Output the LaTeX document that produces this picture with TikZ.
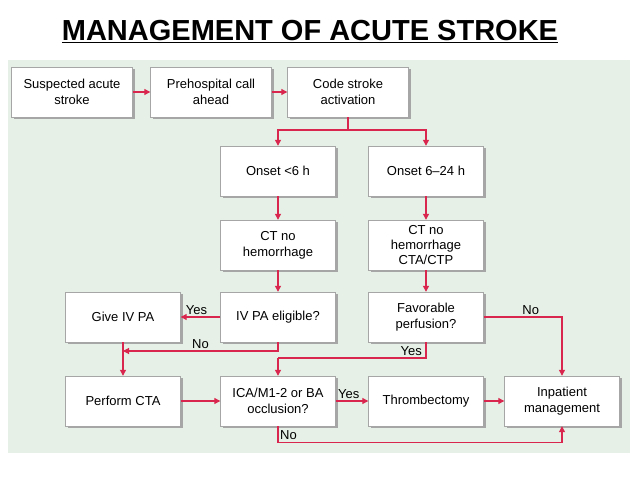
\documentclass[tikz,border=0pt]{standalone}
\usepackage{fontspec}
\setmainfont{Liberation Sans}
\usetikzlibrary{arrows.meta,positioning,shadows}
\definecolor{flowred}{HTML}{D9264E}
\definecolor{panelgreen}{HTML}{E6F0E6}
\begin{document}
\begin{tikzpicture}[x=1pt,y=-1pt,
	box/.style = {draw=gray!70, fill=white, thin, minimum width=115pt, minimum height=50pt,
		align=center, font=\fontsize{13}{16}\selectfont,
		drop shadow={shadow xshift=2pt, shadow yshift=-2pt, fill=gray!70, opacity=1}},
	flow/.style = {draw=flowred, line width=1.1pt, -{Triangle[length=6pt,width=6pt]}},
	lbl/.style  = {font=\fontsize{13}{15}\selectfont, inner sep=2pt},
	>=latex]
	\useasboundingbox (0,0) rectangle (638,479);
	\fill[panelgreen] (8,60) rectangle (630,453);
	\node[font=\bfseries\fontsize{29}{32}\selectfont] (title) at (310,32) {\underline{MANAGEMENT OF ACUTE STROKE}};
	
	% Top row
	\node[box, minimum width=121pt] (suspect) at (72,92) {Suspected acute\\stroke};
	\node[box, minimum width=121pt] (call) at (211,92) {Prehospital call\\ahead};
	\node[box, minimum width=121pt] (code) at (348,92) {Code stroke\\activation};
	
	% Two branches
	\node[box] (early) at (278,171) {Onset <6 h};
	\node[box] (late) at (426,171) {Onset 6--24 h};
	\node[box] (ct) at (278,245) {CT no\\hemorrhage};
	\node[box, font=\fontsize{13}{15}\selectfont] (cta) at (426,245) {CT no\\hemorrhage\\CTA/CTP};
	
	% Decisions
	\node[box] (give) at (123,317) {Give IV PA};
	\node[box] (elig) at (278,317) {IV PA eligible?};
	\node[box] (perf) at (426,317) {Favorable\\perfusion?};
	
	% Bottom row
	\node[box] (doCTA) at (123,401) {Perform CTA};
	\node[box] (occl) at (278,401) {ICA/M1-2 or BA\\occlusion?};
	\node[box] (thromb) at (426,401) {Thrombectomy};
	\node[box] (inpat) at (562,401) {Inpatient\\management};
	
	\coordinate (split) at (348,130);
	\coordinate (join) at (123,351);
	\coordinate (meet) at (278,358);
	
	\draw[flow] (suspect) -- (call);
	\draw[flow] (call) -- (code);
	\draw[draw=flowred, line width=1.1pt] (code.south) -- (split);
	\draw[flow] (split) -| (early.north);
	\draw[flow] (split) -| (late.north);
	\draw[flow] (early) -- (ct);
	\draw[flow] (late) -- (cta);
	\draw[flow] (ct) -- (elig);
	\draw[flow] (cta) -- (perf);
	\draw[flow] (elig) -- node[lbl, above, pos=0.6] {Yes} (give);
	\draw[flow] (elig.south) |- node[lbl, pos=0.75, above] {No} (join);
	\draw[flow] (give) -- (doCTA);
	\draw[draw=flowred, line width=1.1pt] (perf.south) |- node[lbl, pos=0.55, above] {Yes} (meet);
	\draw[flow] (meet) -- (occl.north);
	\draw[flow] (perf.east) -| node[lbl, pos=0.3, above] {No} (inpat.north);
	\draw[flow] (doCTA) -- (occl);
	\draw[flow] (occl) -- node[lbl, above, pos=0.4] {Yes} (thromb);
	\draw[flow] (thromb) -- (inpat);
	\draw[flow] (occl.south) -- ++(0,16) coordinate (low) -| (inpat.south);
	\node[lbl, above right] (nolow) at (low) {No};
\end{tikzpicture}
\end{document}
